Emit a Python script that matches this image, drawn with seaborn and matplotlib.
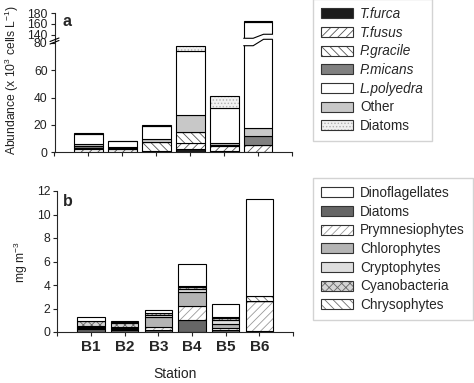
import numpy as np
import pandas as pd
import matplotlib
matplotlib.use("Agg")
import matplotlib.pyplot as plt
from matplotlib.patches import Patch, Polygon
from matplotlib.lines import Line2D
import seaborn as sns

# ==========================================
# DATA
# ==========================================
STATIONS = ['B1', 'B2', 'B3', 'B4', 'B5', 'B6']

# panel a: abundance (x10^3 cells L-1), stacked bottom -> top
T_FURCA    = [0.4, 0.3, 0.2, 2.6, 0.8, 0.3]
T_FUSUS    = [1.8, 1.8, 0.5, 4.0, 3.6, 5.3]
P_GRACILE  = [0.6, 0.6, 6.6, 8.0, 0.6, 0.0]
P_MICANS   = [1.8, 0.4, 0.3, 0.3, 0.5, 6.4]
OTHER      = [1.7, 1.0, 1.9, 12.2, 1.5, 5.8]
L_POLYEDRA = [7.1, 3.8, 9.5, 46.9, 25.0, 146.0]
DIATOMS_A  = [0.6, 0.4, 0.7, 3.4, 9.2, 1.2]

# panel b: biomass (mg m-3), stacked bottom -> top
DIATOMS_B       = [0.25, 0.15, 0.20, 1.00, 0.20, 0.05]
PRYMNESIOPHYTES = [0.10, 0.10, 0.25, 1.25, 0.15, 2.55]
CHLOROPHYTES    = [0.10, 0.10, 0.80, 1.15, 0.35, 0.00]
CRYPTOPHYTES    = [0.10, 0.10, 0.20, 0.25, 0.30, 0.00]
CYANOBACTERIA   = [0.35, 0.35, 0.15, 0.15, 0.20, 0.00]
CHRYSOPHYTES    = [0.05, 0.05, 0.05, 0.12, 0.10, 0.45]
DINOFLAGELLATES = [0.35, 0.10, 0.25, 1.90, 1.10, 8.30]

W, H = 474, 383

sns.set_style('ticks')
plt.rcParams['font.family'] = ['Liberation Sans', 'DejaVu Sans']
plt.rcParams['mathtext.default'] = 'regular'
plt.rcParams['hatch.linewidth'] = 0.6
plt.rcParams['axes.linewidth'] = 0.8
plt.rcParams['xtick.major.size'] = 3
plt.rcParams['ytick.major.size'] = 3
plt.rcParams['xtick.major.width'] = 0.8
plt.rcParams['ytick.major.width'] = 0.8

# styles: facecolor, hatch, hatch colour
STYLE_A = {
    'T.furca':    ('#1c1c1c', None, None),
    'T.fusus':    ('white', '////', '#555555'),
    'P.gracile':  ('white', '\\\\\\\\', '#555555'),
    'P.micans':   ('#808080', None, None),
    'L.polyedra': ('white', None, None),
    'Other':      ('#c8c8c8', None, None),
    'Diatoms':    ('#f0f0f0', '.....', '#b0b0b0'),
}
STYLE_B = {
    'Dinoflagellates': ('white', None, None),
    'Diatoms':         ('#666666', None, None),
    'Prymnesiophytes': ('white', '////', '#9a9a9a'),
    'Chlorophytes':    ('#b4b4b4', None, None),
    'Cryptophytes':    ('#dedede', None, None),
    'Cyanobacteria':   ('#d4d4d4', 'xxxx', '#666666'),
    'Chrysophytes':    ('white', '\\\\\\\\', '#707070'),
}


def stacked(ax, layers, styles, width):
    bottom = np.zeros(len(STATIONS))
    for vals, (fc, hatch, hc) in zip(layers, styles):
        df = pd.DataFrame({'station': STATIONS, 'value': vals})
        # fill (+ hatch in its own colour)
        sns.barplot(data=df, x='station', y='value', order=STATIONS, ax=ax,
                    bottom=bottom, width=width, color=fc, saturation=1,
                    edgecolor=hc if hc else fc, linewidth=0, hatch=hatch,
                    errorbar=None)
        # black outline
        sns.barplot(data=df, x='station', y='value', order=STATIONS, ax=ax,
                    bottom=bottom, width=width, color='black', fill=False,
                    linewidth=0.8, errorbar=None)
        bottom = bottom + np.array(vals)


def legend_handles(styles):
    hs = []
    for fc, hatch, hc in styles.values():
        fill = Patch(facecolor=fc, edgecolor=hc if hc else fc, hatch=hatch, linewidth=0)
        edge = Patch(facecolor='none', edgecolor='#333333', linewidth=0.8)
        hs.append((fill, edge))
    return hs


def px(x0, y0, x1, y1):
    # pixel box (top-left origin) -> figure fraction rect
    return [x0 / W, 1 - y1 / H, (x1 - x0) / W, (y1 - y0) / H]


LEG_KW = dict(loc='upper left', borderaxespad=0, frameon=True, fancybox=False,
              edgecolor='#c8c8c8', handlelength=2.35, handleheight=0.75,
              handletextpad=0.5, labelspacing=0.34, borderpad=0.6)

fig = plt.figure(figsize=(W / 100, H / 100), dpi=100)

layers_a = [T_FURCA, T_FUSUS, P_GRACILE, P_MICANS, OTHER, L_POLYEDRA, DIATOMS_A]
order_a = ['T.furca', 'T.fusus', 'P.gracile', 'P.micans', 'Other', 'L.polyedra', 'Diatoms']
layers_b = [DIATOMS_B, PRYMNESIOPHYTES, CHLOROPHYTES, CRYPTOPHYTES, CYANOBACTERIA,
            CHRYSOPHYTES, DINOFLAGELLATES]
order_b = ['Diatoms', 'Prymnesiophytes', 'Chlorophytes', 'Cryptophytes', 'Cyanobacteria',
           'Chrysophytes', 'Dinoflagellates']

# ---------- panel a (broken axis) ----------
ax_lo = fig.add_axes(px(54.5, 38.6, 292, 152.3))
ax_hi = fig.add_axes(px(54.5, 13.3, 292, 37.9))
WA = 0.85
for ax in (ax_lo, ax_hi):
    stacked(ax, layers_a, [STYLE_A[k] for k in order_a], WA)
    ax.set_xlim(-1, 6)
    ax.set_xlabel('')
    ax.set_ylabel('')
    sns.despine(ax=ax)
ax_lo.set_ylim(0, 83)
ax_lo.set_yticks([0, 20, 40, 60, 80])
ax_lo.set_xticks(range(-1, 7))
ax_lo.set_xticklabels([])
ax_hi.set_ylim(134, 180)
ax_hi.set_yticks([140, 160, 180])
ax_hi.set_xticks([])
ax_hi.spines['bottom'].set_visible(False)
for ax in (ax_lo, ax_hi):
    ax.tick_params(labelsize=8.7, pad=2, colors='#222222')

# break in the B6 bar
to_fig = fig.transFigure.inverted()
i6 = STATIONS.index('B6')
x0, x1 = i6 - WA / 2, i6 + WA / 2
xa, xb = x0 + 0.33 * WA, x0 + 0.69 * WA
up = ax_hi.transData.transform([(x0, 133.3), (xa, 133.3), (xb, 140.8), (x1, 140.8)])
lo = ax_lo.transData.transform([(x0, 77.8), (xa, 77.8), (xb, 82.5), (x1, 82.5)])
gap = np.vstack([up + [[-1, 0], [0, 0], [0, 0], [1, 0]],
                 (lo + [[-1, 0], [0, 0], [0, 0], [1, 0]])[::-1]])
fig.add_artist(Polygon(to_fig.transform(gap), closed=True, facecolor='white',
                       edgecolor='none', transform=fig.transFigure, zorder=3))
for line in (up, lo):
    f = to_fig.transform(line)
    fig.add_artist(Line2D(f[:, 0], f[:, 1], color='black', lw=0.8,
                          transform=fig.transFigure, zorder=4))
# break marks on the y axis
for dy in (0, 2.5):
    fig.add_artist(Line2D([50 / W, 59 / W], [1 - (41.5 + dy) / H, 1 - (38.0 + dy) / H],
                          color='black', lw=0.8, transform=fig.transFigure, zorder=4))

fig.text(12 / W, 1 - 80 / H, 'Abundance (x 10$^3$ cells L$^{-1}$)', rotation=90,
         ha='center', va='center', fontsize=8.7, color='#222222')
fig.text(63 / W, 1 - 22 / H, 'a', fontsize=11.5, fontweight='bold', va='center')

leg_a = fig.legend(handles=legend_handles(STYLE_A), labels=list(STYLE_A.keys()),
                   bbox_to_anchor=(313 / W, 1 + 1 / H),
                   prop={'style': 'italic', 'size': 9.8}, **LEG_KW)
for t in leg_a.get_texts():
    if t.get_text() in ('Other', 'Diatoms'):
        t.set_fontstyle('normal')
leg_a.get_frame().set_linewidth(1.0)

# ---------- panel b ----------
ax_b = fig.add_axes(px(57.3, 191, 293, 332))
WB = 0.82
stacked(ax_b, layers_b, [STYLE_B[k] for k in order_b], WB)
ax_b.set_xlim(-1, 6)
ax_b.set_ylim(0, 12)
ax_b.set_yticks([0, 2, 4, 6, 8, 10, 12])
ax_b.set_xticks(range(-1, 7))
ax_b.set_xticklabels([''] + STATIONS + [''], fontweight='bold', fontsize=11)
ax_b.set_xlabel('')
ax_b.set_ylabel('')
sns.despine(ax=ax_b)
ax_b.tick_params(axis='y', labelsize=8.7, pad=2, colors='#222222')
ax_b.tick_params(axis='x', pad=3)

fig.text(21 / W, 1 - 262 / H, 'mg m$^{-3}$', rotation=90, ha='center', va='center',
         fontsize=8.7, color='#222222')
fig.text(63 / W, 1 - 201.5 / H, 'b', fontsize=11.5, fontweight='bold', va='center')
fig.text(175 / W, 1 - 374 / H, 'Station', ha='center', va='center', fontsize=10,
         color='#222222')

leg_b = fig.legend(handles=legend_handles(STYLE_B), labels=list(STYLE_B.keys()),
                   bbox_to_anchor=(313 / W, 1 - 178 / H), fontsize=9.8, **LEG_KW)
leg_b.get_frame().set_linewidth(1.0)

fig.savefig('out.png', dpi=100)
